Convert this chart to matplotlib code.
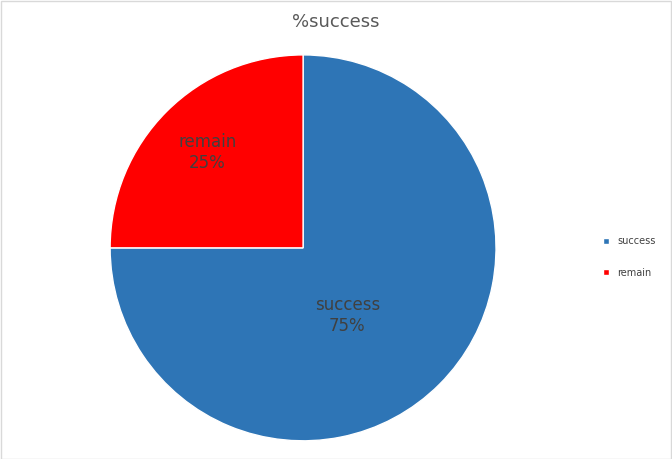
import matplotlib
matplotlib.use("Agg")
import matplotlib.pyplot as plt
import numpy as np
from matplotlib.patches import Rectangle

categories = ["success", "remain"]
values = [75, 25]
colors = ["#2E75B6", "#FF0000"]

fig = plt.figure(figsize=(6.72, 4.59), dpi=100)
fig.patches.append(Rectangle((0.001, 0.001), 0.997, 0.997, transform=fig.transFigure,
                             fill=False, edgecolor="#D9D9D9", lw=1))
ax = fig.add_axes([0.161, 0.035, 0.58, 0.85])
wedges, _ = ax.pie(values, colors=colors, startangle=90, counterclock=False,
                   wedgeprops=dict(edgecolor="white", linewidth=1))
ax.set_xlim(-1.01, 1.01)
ax.set_ylim(-1.01, 1.01)
dists = [0.42, 0.70]
offs = [-12, 0]
total = sum(values)
for w, cat, v, d, o in zip(wedges, categories, values, dists, offs):
    ang = np.deg2rad((w.theta1 + w.theta2) / 2 + o)
    ax.text(d * np.cos(ang), d * np.sin(ang), f"{cat}\n{round(v / total * 100)}%",
            ha="center", va="center", fontsize=12, color="#404040", linespacing=1.2)
ax.set_aspect("equal")
fig.text(0.5, 0.952, "%success", ha="center", va="center", fontsize=13, color="#595959")
fig.legend(wedges, categories, loc="center left", bbox_to_anchor=(0.885, 0.44),
           frameon=False, fontsize=7, handlelength=0.6, handleheight=0.6,
           labelspacing=2.2, labelcolor="#404040")
fig.savefig("out.png", dpi=100)
